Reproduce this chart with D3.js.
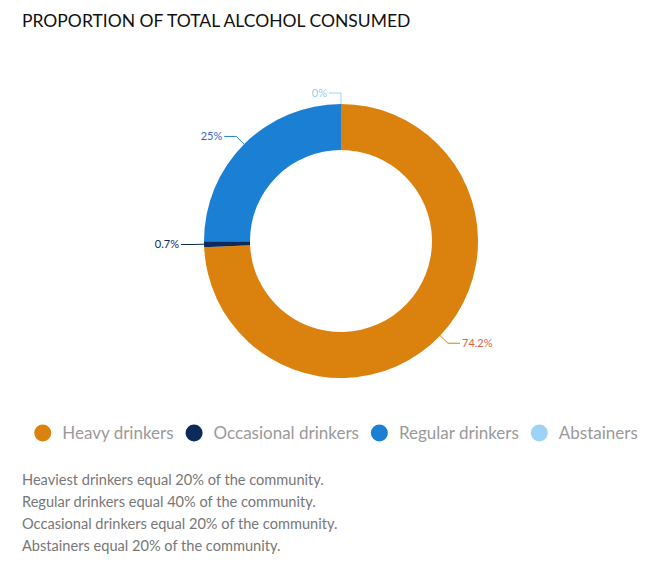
<!DOCTYPE html>
<html>
<head>
<meta charset="utf-8">
<script src="https://cdn.jsdelivr.net/npm/d3@7"></script>
<style>
  body { margin: 0; background: #fff; }
  svg { display: block; font-family: Lato, "Noto Sans", sans-serif; }
</style>
</head>
<body>
<div id="chart"></div>
<script>
// data
var categories = ["Heavy drinkers", "Occasional drinkers", "Regular drinkers", "Abstainers"];
var shares = [74.2, 0.7, 25, 0];
var colors = ["#db820e", "#0c2a5a", "#1b7fd4", "#9dd4f6"];
var labelColors = ["#d9663a", "#0c2a5a", "#3a63d0", "#8ecdf3"];
var notes = [
    "Heaviest drinkers equal 20% of the community.",
    "Regular drinkers equal 40% of the community.",
    "Occasional drinkers equal 20% of the community.",
    "Abstainers equal 20% of the community."
];
var title = "PROPORTION OF TOTAL ALCOHOL CONSUMED";

var width = 654, height = 568;
var cx = 341, cy = 241;
var outerR = 137, innerR = 91;

var svg = d3.select("#chart").append("svg")
    .attr("width", width)
    .attr("height", height);

svg.append("text")
    .attr("x", 22).attr("y", 27)
    .style("font-size", "17.5px")
    .style("fill", "#111")
    .text(title);

var data = categories.map(function(c, i) {
    return {name: c, value: shares[i], color: colors[i], labelColor: labelColors[i]};
});

var pie = d3.pie()
    .sort(null)
    .value(function(d) { return d.value; });

var arc = d3.arc().innerRadius(innerR).outerRadius(outerR);

var g = svg.append("g")
    .attr("transform", "translate(" + cx + "," + cy + ")");

var slices = pie(data);

g.selectAll("path.slice")
    .data(slices).enter().append("path")
    .attr("class", "slice")
    .attr("d", arc)
    .style("fill", function(d) { return d.data.color; });

//leader lines + labels
var fmt = function(v) { return d3.format("~r")(v) + "%"; };
slices.forEach(function(d) {
    var mid = (d.startAngle + d.endAngle) / 2;
    if (mid >= 2 * Math.PI - 1e-6) mid = 2 * Math.PI - 1e-4;
    var sx = Math.sin(mid), sy = -Math.cos(mid);
    var p0 = [outerR * sx, outerR * sy];
    var p1 = [(outerR + 11) * sx, (outerR + 11) * sy];
    var right = sx > 1e-3;
    var p2 = [p1[0] + (right ? 12 : -12), p1[1]];
    g.append("polyline")
        .attr("points", [p0, p1, p2].map(function(p) { return p.join(","); }).join(" "))
        .style("fill", "none")
        .style("stroke", d.data.color)
        .style("stroke-width", 1);
    g.append("text")
        .attr("x", p2[0] + (right ? 2 : -2))
        .attr("y", p2[1])
        .attr("dy", "0.35em")
        .style("text-anchor", right ? "start" : "end")
        .style("font-size", "11px")
        .style("fill", d.data.labelColor)
        .text(fmt(d.data.value));
});

//legend
var legend = svg.append("g").attr("class", "legend");
var lx = 0;
categories.forEach(function(c, i) {
    var item = legend.append("g").attr("transform", "translate(" + lx + ",0)");
    item.append("circle")
        .attr("cx", 8.5).attr("cy", 0).attr("r", 8.5)
        .style("fill", colors[i]);
    var t = item.append("text")
        .attr("x", 28).attr("y", 0).attr("dy", "0.35em")
        .style("font-size", "17px")
        .style("fill", "#9a9a9a")
        .text(c);
    lx += 28 + t.node().getComputedTextLength() + 12;
});
var legendW = lx - 12;
legend.attr("transform", "translate(" + (336 - legendW / 2) + ",433)");

//notes
svg.selectAll("text.note")
    .data(notes).enter().append("text")
    .attr("class", "note")
    .attr("x", 22)
    .attr("y", function(d, i) { return 485 + i * 22; })
    .style("font-size", "14.6px")
    .style("fill", "#777")
    .text(function(d) { return d; });
</script>
</body>
</html>
